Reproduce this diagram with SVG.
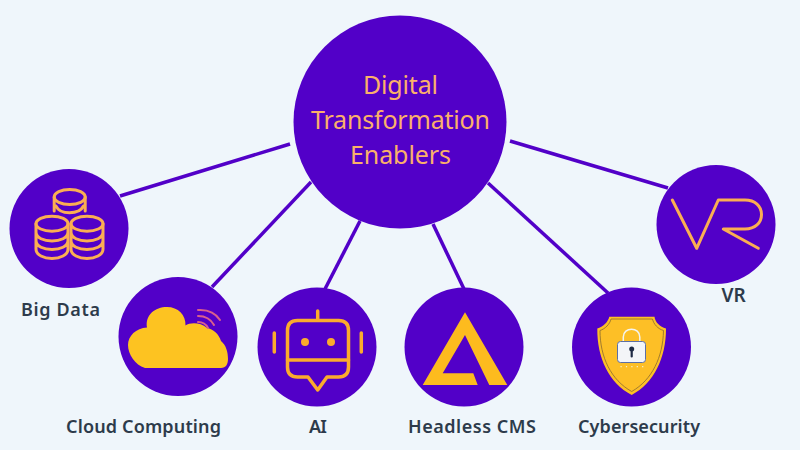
<svg xmlns="http://www.w3.org/2000/svg" width="800" height="450" viewBox="0 0 800 450">
<style>
.c{fill:#5200c8}
.l{font-family:"Noto Sans","Lato",sans-serif;font-weight:600;font-size:18px;fill:#2d3b4b;text-anchor:middle}
.t{font-family:"Noto Sans","Lato",sans-serif;font-size:25px;fill:#fbb06a;text-anchor:middle}
.i{fill:none;stroke:#fbae52;stroke-width:3;stroke-linecap:round;stroke-linejoin:round}
.a{fill:none;stroke:#fbab2d;stroke-width:3.5;stroke-linecap:round;stroke-linejoin:round}
#connectors line{stroke:#5200c8;stroke-width:3.5}
</style>
<rect width="800" height="450" fill="#eff6fb"/>
<g id="connectors">
<line x1="120" y1="196" x2="290" y2="144"/>
<line x1="212" y1="287" x2="311" y2="182"/>
<line x1="325" y1="289" x2="360" y2="221"/>
<line x1="464" y1="289" x2="433" y2="224"/>
<line x1="608" y1="293" x2="488" y2="183"/>
<line x1="668" y1="188" x2="510" y2="141"/>
</g>
<g id="center">
<circle class="c" cx="400" cy="122" r="106.500"/>
<text class="t" x="400.500" y="94" textLength="75">Digital</text>
<text class="t" x="400.500" y="129" textLength="179">Transformation</text>
<text class="t" x="400.500" y="164" textLength="101">Enablers</text>
</g>
<g id="big-data">
<circle class="c" cx="69" cy="228.500" r="59.500"/>
<g class="i">
<ellipse cx="69.700" cy="197" rx="15.500" ry="7.500"/>
<path d="M54.200 197V211M85.200 197V211M56 206C60 215 79 215 83.500 206"/>
<ellipse cx="52" cy="223.700" rx="16" ry="7.500"/>
<path d="M36 223.700V249C36 261.500 68 261.500 68 249V223.700M36 232C36 244 68 244 68 232M36 240.500C36 252.500 68 252.500 68 240.500"/>
<ellipse cx="87" cy="223.700" rx="16" ry="7.500"/>
<path d="M71 223.700V249C71 261.500 103 261.500 103 249V223.700M71 232C71 244 103 244 103 232M71 240.500C71 252.500 103 252.500 103 240.500"/>
</g>
<text class="l" x="60.500" y="316" textLength="79">Big Data</text>
</g>
<g id="cloud-computing">
<circle class="c" cx="178" cy="336.500" r="59.500"/>
<path fill="#fdc321" d="M145 368C135 365 128 354 128 345C128 336 136 328 147 327.500C145 315 155 307 167 307C178 307 186 315 185.500 325.500C190 322.500 200 322 207 328C213 329 219 334 221 341C226 345 228 352 228 359C228 364 226 368 221 368Z"/>
<g fill="none" stroke="#d9608c" stroke-width="2" stroke-linecap="round">
<path d="M198 322Q205 322 208 328"/>
<path d="M198 316Q209 316 214 325"/>
<path d="M198 310Q213 309 220 320"/>
</g>
<text class="l" x="143.500" y="433" textLength="155">Cloud Computing</text>
</g>
<g id="ai">
<circle class="c" cx="317" cy="347" r="59.500"/>
<g class="a">
<path d="M308 377H297.500Q287.500 377 287.500 367V330.500Q287.500 320.500 297.500 320.500H338.500Q348.500 320.500 348.500 330.500V367Q348.500 377 338.500 377H327L317.700 390Z"/>
<path d="M287.500 360H348.500M317.700 311V320M274.300 333V352M361.300 333V352"/>
</g>
<circle cx="305" cy="342" r="4" fill="#fbab2d"/>
<circle cx="331" cy="342" r="4" fill="#fbab2d"/>
<text class="l" x="318" y="433" textLength="18">AI</text>
</g>
<g id="headless-cms">
<circle class="c" cx="464" cy="347" r="59.500"/>
<polygon fill="#fdbb1e" points="465,312.300 507.300,385 489.300,385 465,335 442.700,373.300 473.300,373.300 477.700,385 422.700,385"/>
<text class="l" x="472" y="433" textLength="128">Headless CMS</text>
</g>
<g id="cybersecurity">
<circle class="c" cx="631.500" cy="347" r="59.500"/>
<path fill="#fdbf26" d="M609.300 316.700H654.500C655 322 660 327 666 328.500C666 358 654 383 631.700 395C609 383 597 358 597.300 328.500C603 327 608 322 609.300 316.700Z"/>
<path fill="none" stroke="#8a6a30" stroke-width="0.800" d="M611 319H652.500C653.500 324 658 329 663.500 330.500C663 357 652 380 631.700 391.500C611 380 600 357 600 330.500C605 329 610 324 611 319Z"/>
<path fill="none" stroke="#f4f4ef" stroke-width="1.500" d="M623.300 341V337C623.300 326.500 639.800 326.500 639.800 337V341"/>
<rect x="617.500" y="341.500" width="28" height="21" rx="3" fill="#f3f5f8" stroke="#5c6fa5" stroke-width="1"/>
<circle cx="631.700" cy="349" r="2.500" fill="#1e2a44"/>
<path d="M631.700 349V356.500" stroke="#1e2a44" stroke-width="2.200" stroke-linecap="round"/>
<path d="M620.500 366.700H643.500" stroke="#f7efcf" stroke-width="1.200" stroke-dasharray="1.200 4.200"/>
<text class="l" x="639" y="433" textLength="122">Cybersecurity</text>
</g>
<g id="vr">
<circle class="c" cx="716" cy="224.500" r="59.500"/>
<path class="i" d="M672.300 200L696.700 248.300L718.300 200H745C755 200 761.500 206 761.500 214.500C761.500 223 755 229 745 229H723.300L758.300 248.300"/>
<text class="l" x="733.500" y="302" style="font-size:19px">VR</text>
</g>
</svg>
